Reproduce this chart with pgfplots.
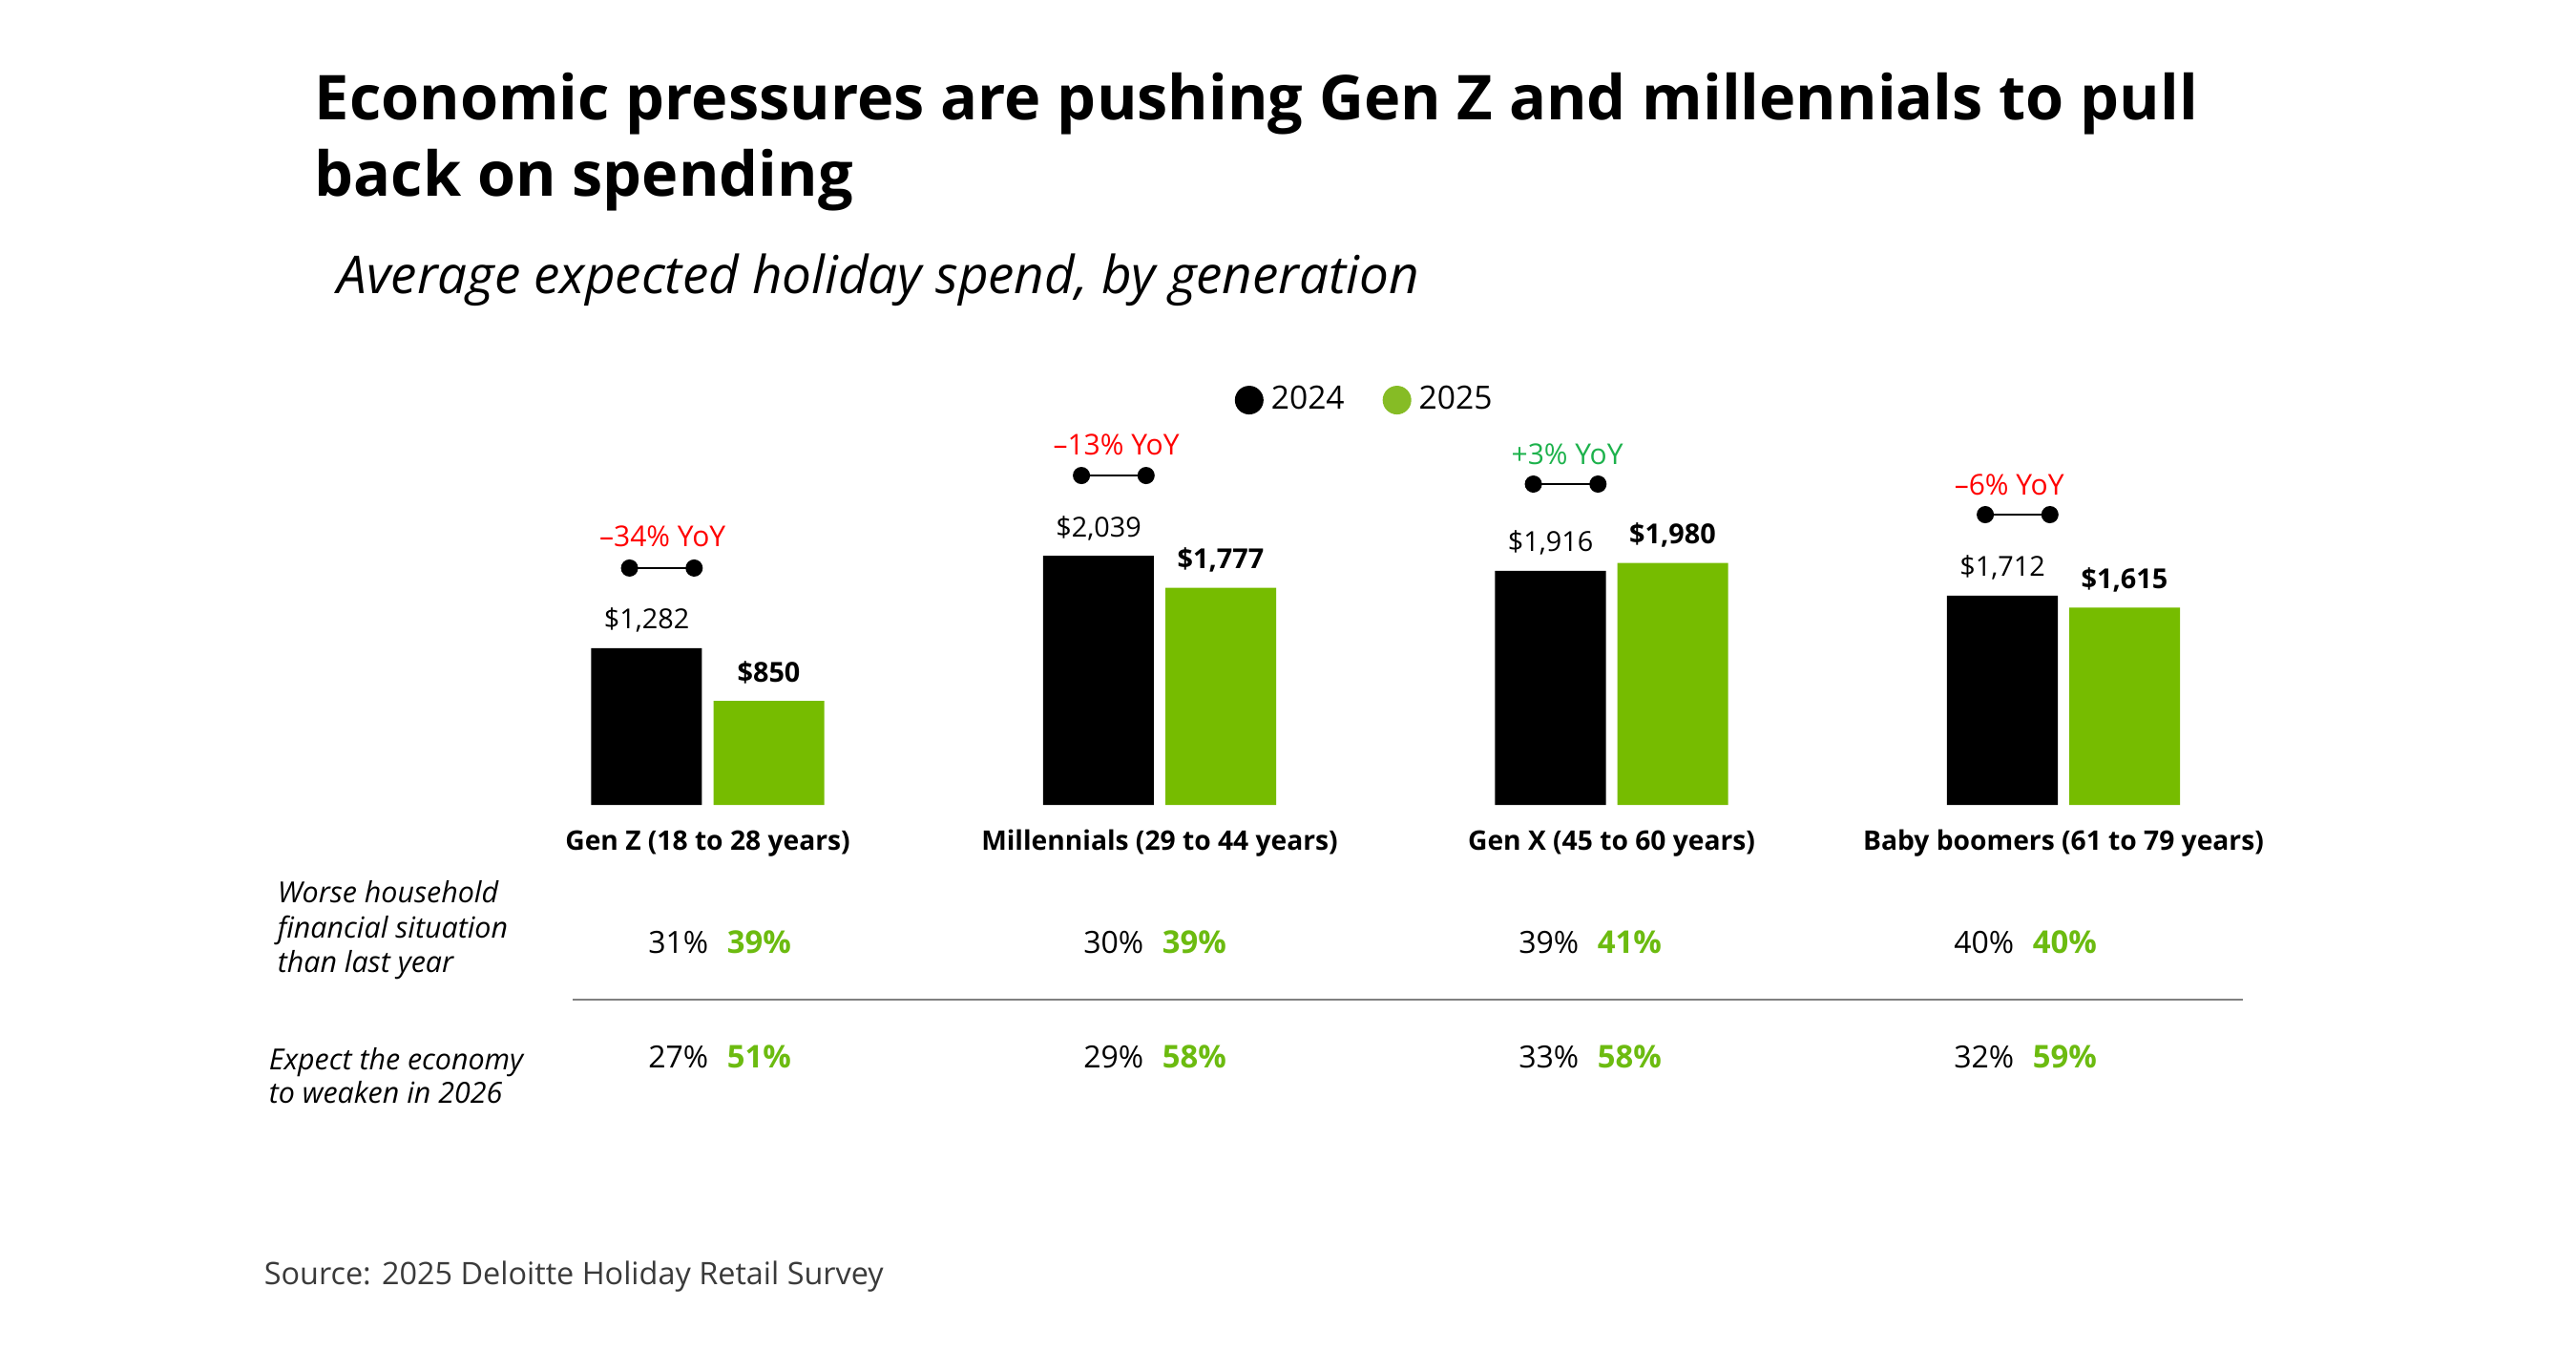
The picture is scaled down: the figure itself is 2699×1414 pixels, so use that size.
\documentclass[border=0pt]{standalone}
\usepackage{pgfplots}
\pgfplotsset{compat=1.18}
\usepackage{fontspec}
\setmainfont{Open Sans}
\definecolor{bargreen}{HTML}{76BC00}
\definecolor{leggreen}{HTML}{86BC25}
\definecolor{pctgreen}{HTML}{6CBB10}
\definecolor{yoyred}{HTML}{FF0000}
\definecolor{yoygreen}{HTML}{1DB24C}
\definecolor{sepgray}{HTML}{808080}
\definecolor{srcgray}{HTML}{3A3A3A}
\newcommand{\lbl}{\fontsize{7.2}{9}\selectfont}
\newcommand{\yoy}{\fontsize{7.5}{9}\selectfont}
\begin{document}
\begin{tikzpicture}[x=0.25pt,y=-0.25pt]
\useasboundingbox[fill=white] (0,0) rectangle (2699,1414);
\begin{axis}[
  at={(126.1875pt,-210.75pt)}, anchor=south west,
  x=118.375pt, y=0.032pt,
  xmin=-0.5, xmax=3.5, ymin=0, ymax=3000,
  clip=false,
  hide y axis,
  axis x line*=bottom,
  x axis line style={draw=none},
  xtick={0,1,2,3},
  xticklabels={Gen Z (18 to 28 years), Millennials (29 to 44 years), Gen X (45 to 60 years), Baby boomers (61 to 79 years)},
  major tick length=0pt,
  xticklabel style={font=\bfseries\fontsize{7.05}{9}\selectfont, anchor=base, yshift=-11.75pt, inner sep=0pt},
  /pgf/number format/assume math mode=true,
  legend style={at={(0.4162,1.104)}, anchor=west, draw=none, fill=none,
    inner sep=0pt, font=\fontsize{8.4}{10}\selectfont,
    /tikz/every even column/.append style={column sep=8pt}},
  legend columns=2,
]
\addplot[ybar, bar width=0.245, bar shift=-0.1352, fill=black, draw=none,
  nodes near coords={\$\pgfmathprintnumber[fixed, precision=0, 1000 sep={,}, assume math mode=true]{\pgfplotspointmeta}},
  every node near coord/.append style={font=\lbl, text=black, anchor=base, xshift=-16pt, yshift=5pt, inner sep=0pt},
  legend image code/.code={\fill[black] (3.75pt,0pt) circle (3.75pt);}]
  coordinates {(0,1282) (1,2039) (2,1916) (3,1712)};
\addlegendentry{2024}
\addplot[ybar, bar width=0.245, bar shift=0.1352, fill=bargreen, draw=none,
  nodes near coords={\$\pgfmathprintnumber[fixed, precision=0, 1000 sep={,}, assume math mode=true]{\pgfplotspointmeta}},
  every node near coord/.append style={font=\bfseries\lbl, text=black, anchor=base, xshift=16pt, yshift=5pt, inner sep=0pt},
  legend image code/.code={\fill[leggreen] (3.75pt,0pt) circle (3.75pt);}]
  coordinates {(0,850) (1,1777) (2,1980) (3,1615)};
\addlegendentry{2025}
% YoY dumbbells
\addplot[black, line width=0.5pt, mark=*, mark size=2pt, forget plot] coordinates {(-0.173,1938) (-0.030,1938)};
\addplot[black, line width=0.5pt, mark=*, mark size=2pt, forget plot] coordinates {(0.827,2695) (0.970,2695)};
\addplot[black, line width=0.5pt, mark=*, mark size=2pt, forget plot] coordinates {(1.827,2625) (1.970,2625)};
\addplot[black, line width=0.5pt, mark=*, mark size=2pt, forget plot] coordinates {(2.827,2375) (2.970,2375)};
\node[anchor=base, inner sep=0pt, text=yoyred, font=\yoy] at (axis cs:-0.100,2117) {\textendash34\% YoY};
\node[anchor=base, inner sep=0pt, text=yoyred, font=\yoy] at (axis cs:0.904,2867) {\textendash13\% YoY};
\node[anchor=base, inner sep=0pt, text=yoygreen, font=\yoy] at (axis cs:1.902,2789) {+3\% YoY};
\node[anchor=base, inner sep=0pt, text=yoyred, font=\yoy] at (axis cs:2.880,2539) {\textendash6\% YoY};
\end{axis}
% Title and subtitle
\node[anchor=base west, inner sep=0pt, font=\bfseries\fontsize{16.2}{20}\selectfont] at (329,125) {Economic pressures are pushing Gen Z and millennials to pull};
\node[anchor=base west, inner sep=0pt, font=\bfseries\fontsize{16.2}{20}\selectfont] at (329,205) {back on spending};
\node[anchor=base west, inner sep=0pt, font=\itshape\fontsize{13.7}{16}\selectfont] at (353,307) {Average expected holiday spend, by generation};
% Row labels
\node[anchor=base west, inner sep=0pt, font=\itshape\fontsize{7.6}{9}\selectfont] at (290,945) {Worse household};
\node[anchor=base west, inner sep=0pt, font=\itshape\fontsize{7.6}{9}\selectfont] at (290,982) {financial situation};
\node[anchor=base west, inner sep=0pt, font=\itshape\fontsize{7.6}{9}\selectfont] at (290,1018) {than last year};
\node[anchor=base west, inner sep=0pt, font=\itshape\fontsize{7.6}{9}\selectfont] at (281,1120) {Expect the economy};
\node[anchor=base west, inner sep=0pt, font=\itshape\fontsize{7.6}{9}\selectfont] at (281,1155) {to weaken in 2026};
% Percent rows
\foreach \g/\a/\b/\c/\d in {752/31/39/27/51, 1208/30/39/29/58, 1664/39/41/33/58, 2120/40/40/32/59}{
  \node[anchor=base east, inner sep=0pt, font=\fontsize{8}{10}\selectfont] at (\g-9,998) {\a\%};
  \node[anchor=base west, inner sep=0pt, text=pctgreen, font=\bfseries\fontsize{8.2}{10}\selectfont] at (\g+9,998) {\b\%};
  \node[anchor=base east, inner sep=0pt, font=\fontsize{8}{10}\selectfont] at (\g-9,1118) {\c\%};
  \node[anchor=base west, inner sep=0pt, text=pctgreen, font=\bfseries\fontsize{8.2}{10}\selectfont] at (\g+9,1118) {\d\%};
}
\draw[sepgray, line width=0.6pt] (600,1047) -- (2350,1047);
% Source
\node[anchor=base west, inner sep=0pt, text=srcgray, font=\fontsize{8.1}{10}\selectfont] at (276,1345) {Source: 2025 Deloitte Holiday Retail Survey};
\end{tikzpicture}
\end{document}
